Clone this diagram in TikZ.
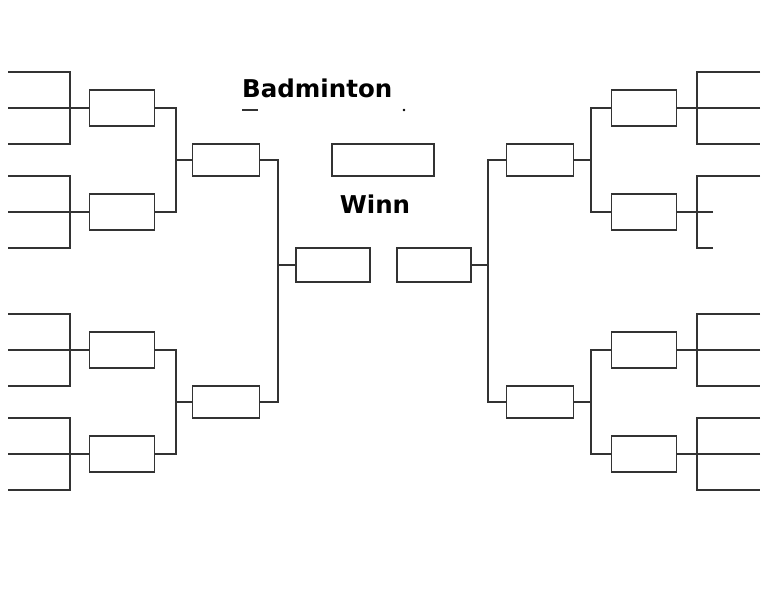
\documentclass[tikz,border=0pt]{standalone}
\usepackage{fontspec}
\setmainfont{DejaVu Sans}
\usetikzlibrary{positioning}
\tikzset{slot/.style={rectangle, draw=black!80, line width=1.4pt, inner sep=0pt},
    line/.style={draw=black!80, line width=1.4pt},
    title/.style={font=\fontsize{24.5}{24.5}\selectfont\bfseries, inner sep=0pt}}

\begin{document}
\begin{tikzpicture}[x=1pt,y=-1pt]
        \useasboundingbox (0,0) rectangle (768,594);
        % Components
        \foreach \n/\x/\y in {la/122/108, lb/122/212, lc/122/350, ld/122/454,
                              ra/644/108, rb/644/212, rc/644/350, rd/644/454}
            \node [slot, minimum width=65pt, minimum height=36pt] (\n) at (\x,\y) {};
        \foreach \n/\x/\y in {lab/226/160, lcd/226/402, rab/540/160, rcd/540/402}
            \node [slot, minimum width=67pt, minimum height=32pt] (\n) at (\x,\y) {};
        \node [slot, minimum width=74pt, minimum height=34pt] (semil) at (333,265) {};
        \node [slot, minimum width=74pt, minimum height=34pt] (semir) at (434,265) {};
        \node [slot, minimum width=102pt, minimum height=32pt] (final) at (383,160) {};
        \node [title, anchor=west] (head) at (242,88) {Badminton};
        \node [title] (winner) at (375,204) {Winn};
        \draw [line, line width=2.5pt] (242,110) -- (258,110);
        \fill (404,110) circle (1.4pt);

        % First round brackets
        \foreach \n in {la,lb,lc,ld} {
            \draw [line] (8,0 |- \n.west) ++(0,-36) -- ++(62,0) -- ++(0,72) -- ++(-62,0);
            \draw [line] (8,0 |- \n.west) -- (\n.west);
        }
        \foreach \n in {ra,rc,rd} {
            \draw [line] (760,0 |- \n.east) ++(0,-36) -- ++(-63,0) -- ++(0,72) -- ++(63,0);
            \draw [line] (760,0 |- \n.east) -- (\n.east);
        }
        \draw [line] (760,176) -- (697,176) -- (697,248) -- (713,248);
        \draw [line] (713,0 |- rb.east) -- (rb.east);

        % Connections
        \foreach \a/\b/\c in {la/lb/lab, lc/ld/lcd} {
            \draw [line] (\a.east) -| (176,0 |- \c.west) |- (\b.east);
            \draw [line] (176,0 |- \c.west) -- (\c.west);
        }
        \foreach \a/\b/\c in {ra/rb/rab, rc/rd/rcd} {
            \draw [line] (\a.west) -| (591,0 |- \c.east) |- (\b.west);
            \draw [line] (591,0 |- \c.east) -- (\c.east);
        }
        \draw [line] (lab.east) -| (278,0 |- semil.west) |- (lcd.east);
        \draw [line] (278,0 |- semil.west) -- (semil.west);
        \draw [line] (rab.west) -| (488,0 |- semir.east) |- (rcd.west);
        \draw [line] (488,0 |- semir.east) -- (semir.east);
\end{tikzpicture}
\end{document}
